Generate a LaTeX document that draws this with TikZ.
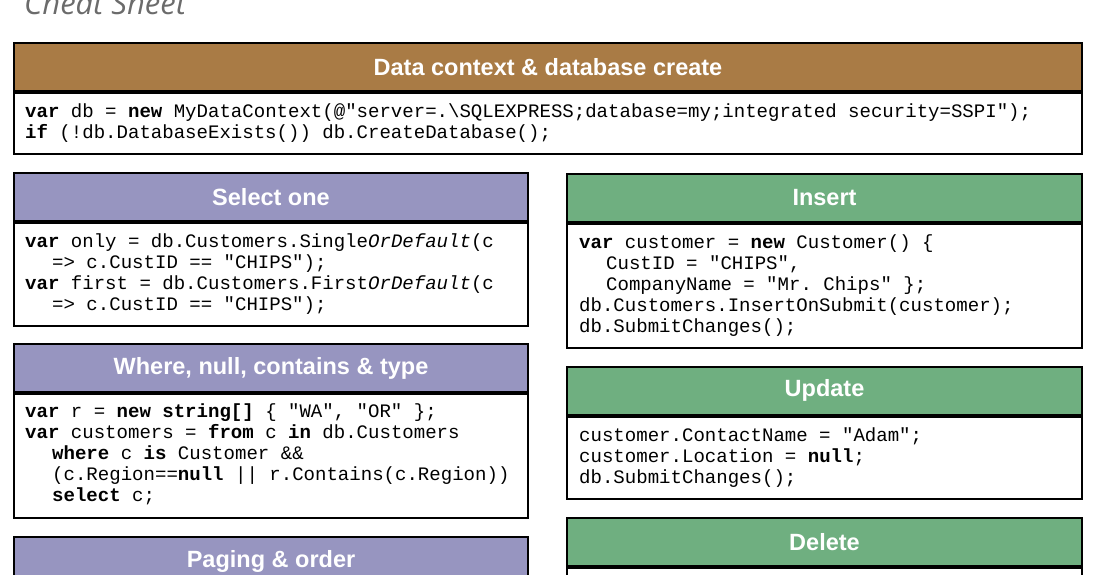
\documentclass[tikz,border=0pt]{standalone}
\usepackage{fontspec}
\setmainfont{Liberation Sans}
\setmonofont{Liberation Mono}
\newfontfamily\titlefont{Open Sans}
\usepackage{tikz}
\usetikzlibrary{positioning}
\definecolor{brownhead}{HTML}{A97B45}
\definecolor{purplehead}{HTML}{9795C0}
\definecolor{greenhead}{HTML}{6FAF80}
\definecolor{cheatgrey}{HTML}{6B6B6B}
\tikzset{
  head/.style={draw=black, line width=2pt, minimum height=48pt, inner sep=0pt,
    text=white, font=\fontsize{23.5}{25}\selectfont\bfseries},
  body/.style={draw=black, line width=2pt, inner sep=0pt},
  code/.style={anchor=north west, inner sep=0pt, align=left,
    font=\fontsize{19.05}{21}\selectfont\ttfamily}
}
\newcommand{\kw}[1]{\textbf{#1}}
\newcommand{\ind}{\hspace*{27pt}}
\begin{document}
\begin{tikzpicture}[x=1pt,y=-1pt]
 \useasboundingbox (0,0) rectangle (1094,574);
 \clip (0,0) rectangle (1094,574);

	% Titre
 \node[anchor=base west, inner sep=0pt, text=cheatgrey, font=\fontsize{31}{33}\selectfont\titlefont\itshape] (title) at (24,14) {Cheat Sheet};

	% Data context
 \node[head, fill=brownhead, minimum width=1068pt] (datahead) at (548,67) {Data context \& database create};
 \node[body, minimum width=1068pt, minimum height=61pt, below=0pt of datahead] (databody) {};
 \node[code] (datacode) at (25,103) {\kw{var} db = \kw{new} MyDataContext(@"server=.\textbackslash SQLEXPRESS;database=my;integrated security=SSPI");\\
\kw{if} (!db.DatabaseExists()) db.CreateDatabase();};

	% Colonne gauche
 \node[head, fill=purplehead, minimum width=514pt] (selhead) at (271,197) {Select one};
 \node[body, minimum width=514pt, minimum height=103pt, below=0pt of selhead] (selbody) {};
 \node[code] (selcode) at (25,233) {\kw{var} only = db.Customers.Single\textit{OrDefault}(c\\
\ind=> c.CustID == "CHIPS");\\
\kw{var} first = db.Customers.First\textit{OrDefault}(c\\
\ind=> c.CustID == "CHIPS");};

 \node[head, fill=purplehead, minimum width=514pt] (wherehead) at (271,368) {Where, null, contains \& type};
 \node[body, minimum width=514pt, minimum height=124pt, below=0pt of wherehead] (wherebody) {};
 \node[code] (wherecode) at (25,403) {\kw{var} r = \kw{new} \kw{string[]} \{ "WA", "OR" \};\\
\kw{var} customers = \kw{from} c \kw{in} db.Customers\\
\ind\kw{where} c \kw{is} Customer \&\&\\
\ind(c.Region==\kw{null} || r.Contains(c.Region))\\
\ind\kw{select} c;};

 \node[head, fill=purplehead, minimum width=514pt] (pagehead) at (271,561) {Paging \& order};
 \node[body, minimum width=514pt, minimum height=60pt, below=0pt of pagehead] (pagebody) {};

	% Colonne droite
 \node[head, fill=greenhead, minimum width=515pt] (inshead) at (824.5,198) {Insert};
 \node[body, minimum width=515pt, minimum height=124pt, below=0pt of inshead] (insbody) {};
 \node[code] (inscode) at (579,234) {\kw{var} customer = \kw{new} Customer() \{\\
\ind CustID = "CHIPS",\\
\ind CompanyName = "Mr. Chips" \};\\
db.Customers.InsertOnSubmit(customer);\\
db.SubmitChanges();};

 \node[head, fill=greenhead, minimum width=515pt] (updhead) at (824.5,390.5) {Update};
 \node[body, minimum width=515pt, minimum height=82pt, below=0pt of updhead] (updbody) {};
 \node[code] (updcode) at (579,427) {customer.ContactName = "Adam";\\
customer.Location = \kw{null};\\
db.SubmitChanges();};

 \node[head, fill=greenhead, minimum width=515pt] (delhead) at (824.5,542) {Delete};
 \node[body, minimum width=515pt, minimum height=60pt, below=0pt of delhead] (delbody) {};

\end{tikzpicture}
\end{document}
